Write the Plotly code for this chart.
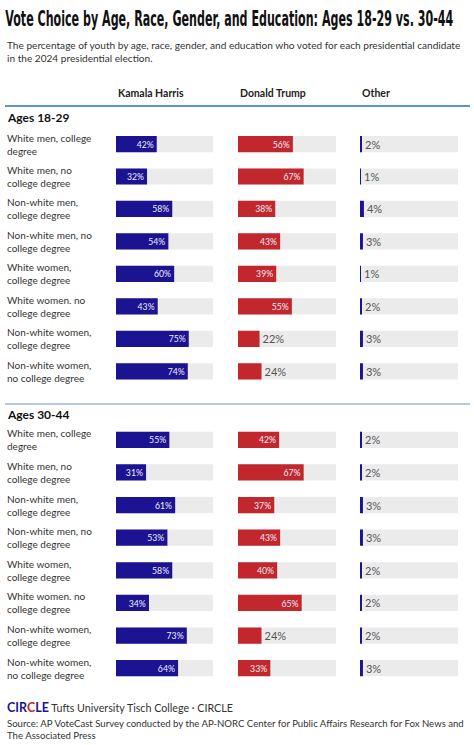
import plotly.graph_objects as go

W, H = 474, 745

categories = [
    "White men, college<br>degree",
    "White men, no<br>college degree",
    "Non-white men,<br>college degree",
    "Non-white men, no<br>college degree",
    "White women,<br>college degree",
    "White women. no<br>college degree",
    "Non-white women,<br>college degree",
    "Non-white women,<br>no college degree",
]
cat_keys = [f"c{i}" for i in range(len(categories))]

harris_18_29 = [42, 32, 58, 54, 60, 43, 75, 74]
trump_18_29 = [56, 67, 38, 43, 39, 55, 22, 24]
other_18_29 = [2, 1, 4, 3, 1, 2, 3, 3]

harris_30_44 = [55, 31, 61, 53, 58, 34, 73, 64]
trump_30_44 = [42, 67, 37, 43, 40, 65, 24, 33]
other_30_44 = [2, 2, 3, 3, 2, 2, 2, 3]

columns = ["Kamala Harris", "Donald Trump", "Other"]
groups = ["Ages 18-29", "Ages 30-44"]

BLUE = "#1b1391"
RED = "#c1272d"
GREY_BG = "#ebebeb"
TEXT = "#333333"
FONT = "Lato"


def py(p):
    return 1 - p / H


def px(p):
    return p / W


fig = go.Figure()

data = {
    ("y", "x"): harris_18_29, ("y", "x2"): trump_18_29, ("y", "x3"): other_18_29,
    ("y2", "x"): harris_30_44, ("y2", "x2"): trump_30_44, ("y2", "x3"): other_30_44,
}
colors = {"x": BLUE, "x2": RED, "x3": BLUE}

for (ya, xa), vals in data.items():
    fig.add_trace(go.Bar(
        y=cat_keys, x=[100] * len(vals), orientation="h", xaxis=xa, yaxis=ya,
        marker=dict(color=GREY_BG, line=dict(width=0)), width=0.5,
        hoverinfo="skip", showlegend=False,
    ))
    if xa == "x3":
        pos = ["outside"] * len(vals)
    else:
        pos = ["inside" if v >= 30 else "outside" for v in vals]
    fig.add_trace(go.Bar(
        y=cat_keys, x=vals, orientation="h", xaxis=xa, yaxis=ya,
        marker=dict(color=colors[xa], line=dict(width=0)), width=0.5,
        text=[f"{v}%" for v in vals], textposition=pos,
        insidetextanchor="end", textangle=0,
        insidetextfont=dict(color="#f0eefc", size=11, family=FONT),
        outsidetextfont=dict(color="#555555", size=11, family=FONT),
        cliponaxis=False, showlegend=False,
        hovertemplate="%{x}%<extra></extra>",
    ))

col_left = [116, 238, 360]
col_right = [213, 336, 458]

layout_axes = {}
for i, (l, r) in enumerate(zip(col_left, col_right)):
    name = "xaxis" if i == 0 else f"xaxis{i+1}"
    layout_axes[name] = dict(domain=[px(l), px(r)], range=[0, 100], visible=False,
                             fixedrange=True, anchor="y")

n = len(cat_keys)
layout_axes["yaxis"] = dict(domain=[py(387.5), py(127.8)], type="category",
                            categoryorder="array", categoryarray=cat_keys,
                            range=[n - 0.5, -0.5], visible=False, fixedrange=True)
layout_axes["yaxis2"] = dict(domain=[py(684.5), py(423.5)], type="category",
                             categoryorder="array", categoryarray=cat_keys,
                             range=[n - 0.5, -0.5], visible=False, fixedrange=True)

annotations = []
# title & subtitle
TITLE = "Vote Choice by Age, Race, Gender, and Education: Ages 18-29 vs. 30-44"
annotations.append(dict(
    text=f"<b>{TITLE}</b>",
    x=px(229), y=py(18.5), xref="paper", yref="paper", xanchor="center", yanchor="middle",
    align="center", showarrow=False,
    font=dict(family="DejaVu Sans Condensed, Roboto", size=22, color="#111111")))
annotations.append(dict(
    text="The percentage of youth by age, race, gender, and education who voted for each presidential candidate<br>in the 2024 presidential election.",
    x=px(5), y=py(51.5), xref="paper", yref="paper", xanchor="left", yanchor="middle",
    align="left", showarrow=False, font=dict(family=FONT, size=10.1, color=TEXT)))
# column headers
for c, l in zip(columns, col_left):
    annotations.append(dict(text=f"<b>{c}</b>", x=px(l), y=py(93), xref="paper", yref="paper",
                            xanchor="left", yanchor="middle", showarrow=False,
                            font=dict(family=FONT, size=10.5, color="#222222")))
# group headers
for g, yy in zip(groups, [117, 414]):
    annotations.append(dict(text=f"<b>{g}</b>", x=px(5), y=py(yy), xref="paper", yref="paper",
                            xanchor="left", yanchor="middle", showarrow=False,
                            font=dict(family=FONT, size=12, color="#111111")))
# category labels
for ya in ["y", "y2"]:
    for k, lab in zip(cat_keys, categories):
        annotations.append(dict(text=lab, x=px(5), y=k, xref="paper", yref=ya,
                                xanchor="left", yanchor="middle", align="left",
                                showarrow=False,
                                font=dict(family=FONT, size=10, color=TEXT)))
# footer
annotations.append(dict(
    text=f"<b><span style='color:{BLUE};font-size:12.5px'>CIR</span><span style='color:{RED};font-size:12.5px'>C</span><span style='color:{BLUE};font-size:12.5px'>LE</span></b> Tufts University Tisch College · CIRCLE",
    x=px(5), y=py(707), xref="paper", yref="paper", xanchor="left", yanchor="middle",
    showarrow=False, font=dict(family=FONT, size=10.7, color=TEXT)))
annotations.append(dict(
    text="Source: AP VoteCast Survey conducted by the AP-NORC Center for Public Affairs Research for Fox News and<br>The Associated Press",
    x=px(5), y=py(729), xref="paper", yref="paper", xanchor="left", yanchor="middle",
    align="left", showarrow=False, font=dict(family=FONT, size=9.6, color=TEXT)))

shapes = [
    dict(type="line", xref="paper", yref="paper", x0=px(5), x1=px(470), y0=py(106), y1=py(106),
         line=dict(color="#5b93d3", width=2)),
    dict(type="line", xref="paper", yref="paper", x0=px(5), x1=px(470), y0=py(404), y1=py(404),
         line=dict(color="#9cb5df", width=1.5)),
]

fig.update_layout(
    width=W, height=H, margin=dict(l=0, r=0, t=0, b=0),
    paper_bgcolor="white", plot_bgcolor="white",
    barmode="overlay", bargap=0.5,
    annotations=annotations, shapes=shapes,
    font=dict(family=FONT, color=TEXT),
    **layout_axes,
)

post = """
var gd = document.getElementById('{plot_id}');
function fitTitle(){
  document.querySelectorAll('.annotation-text').forEach(function(t){
    if (t.textContent.indexOf('Vote Choice') === 0) {
      t.setAttribute('textLength', '448');
      t.setAttribute('lengthAdjust', 'spacingAndGlyphs');
    }
  });
}
fitTitle();
if (gd && gd.on) { gd.on('plotly_afterplot', fitTitle); }
"""

fig.write_html("out.html", config={"displayModeBar": False}, post_script=post)
